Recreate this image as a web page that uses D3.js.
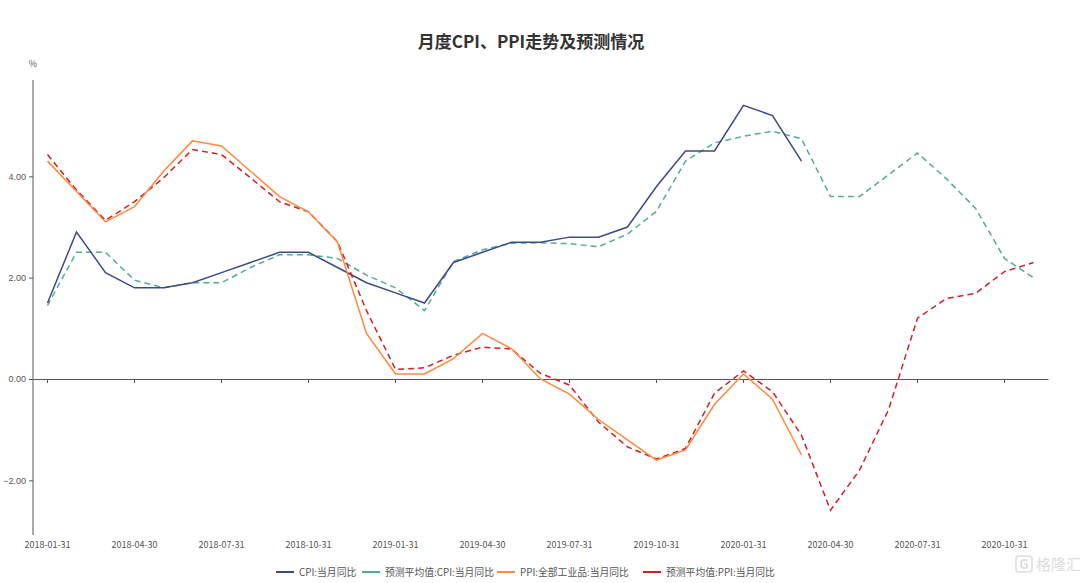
<!DOCTYPE html>
<html>
<head>
<meta charset="utf-8">
<script src="https://cdn.jsdelivr.net/npm/d3@7"></script>
<style>
  body { margin: 0; background: #fff; font-family: "Noto Sans CJK SC", "Noto Sans", sans-serif; }
  .axis text { font-size: 9px; fill: #555; }
  .axis path, .axis line { stroke: #555; }
</style>
</head>
<body>
<div id="chart"></div>
<script>
var months = [
  '2018-01-31', '2018-02-28', '2018-03-31', '2018-04-30', '2018-05-31', '2018-06-30',
  '2018-07-31', '2018-08-31', '2018-09-30', '2018-10-31', '2018-11-30', '2018-12-31',
  '2019-01-31', '2019-02-28', '2019-03-31', '2019-04-30', '2019-05-31', '2019-06-30',
  '2019-07-31', '2019-08-31', '2019-09-30', '2019-10-31', '2019-11-30', '2019-12-31',
  '2020-01-31', '2020-02-29', '2020-03-31', '2020-04-30', '2020-05-31', '2020-06-30',
  '2020-07-31', '2020-08-31', '2020-09-30', '2020-10-31', '2020-11-30'
];
var cpi = [1.5, 2.9, 2.1, 1.8, 1.8, 1.9, 2.1, 2.3, 2.5, 2.5, 2.2, 1.9,
  1.7, 1.5, 2.3, 2.5, 2.7, 2.7, 2.8, 2.8, 3.0, 3.8, 4.5, 4.5,
  5.4, 5.2, 4.3];
var cpiForecast = [1.45, 2.5, 2.5, 1.95, 1.8, 1.9, 1.9, 2.2, 2.45, 2.45, 2.38, 2.05,
  1.8, 1.35, 2.32, 2.55, 2.68, 2.69, 2.67, 2.61, 2.86, 3.31, 4.3, 4.66,
  4.79, 4.89, 4.74, 3.6, 3.6, 4.03, 4.46, 3.95, 3.37, 2.38, 2.0];
var ppi = [4.3, 3.7, 3.1, 3.4, 4.1, 4.7, 4.6, 4.1, 3.6, 3.3, 2.7, 0.9,
  0.1, 0.1, 0.4, 0.9, 0.6, 0.0, -0.3, -0.8, -1.2, -1.6, -1.4, -0.5,
  0.1, -0.4, -1.5];
var ppiForecast = [4.43, 3.73, 3.13, 3.5, 3.97, 4.53, 4.43, 3.97, 3.5, 3.3, 2.71, 1.35,
  0.19, 0.22, 0.47, 0.63, 0.59, 0.11, -0.12, -0.85, -1.34, -1.58, -1.37, -0.28,
  0.16, -0.25, -1.11, -2.59, -1.8, -0.61, 1.2, 1.59, 1.69, 2.12, 2.3];
var yTicks = [-2, 0, 2, 4];
var seriesNames = ['CPI:当月同比', '预测平均值:CPI:当月同比', 'PPI:全部工业品:当月同比', '预测平均值:PPI:当月同比'];

var chartWidth = 1091;
var chartHeight = 583;
var plotLeft = 33;
var plotRight = 1048;
var plotTop = 75;
var plotBottom = 531;

var svg = d3.select('#chart')
    .append('svg')
    .attr('width', chartWidth)
    .attr('height', chartHeight);

// Title
svg.append('text')
    .attr('x', 531)
    .attr('y', 48)
    .attr('text-anchor', 'middle')
    .attr('font-size', 17)
    .attr('font-weight', 'bold')
    .attr('fill', '#333')
    .text('月度CPI、PPI走势及预测情况');

svg.append('text')
    .attr('x', 33)
    .attr('y', 67)
    .attr('text-anchor', 'middle')
    .attr('font-size', 9)
    .attr('fill', '#555')
    .text('%');

// Scales
var scaleX = d3.scaleBand()
    .domain(months)
    .range([plotLeft, plotRight]);

var scaleY = d3.scaleLinear()
    .domain([-3, 6])
    .range([plotBottom, plotTop]);

// Y axis
var axisY = d3.axisLeft(scaleY)
    .tickValues(yTicks)
    .tickSize(4)
    .tickFormat(d3.format('.2f'));

svg.append('g')
    .attr('class', 'axis y-axis')
    .attr('transform', 'translate(' + plotLeft + ',0)')
    .call(axisY)
    .call(function(g) {
      g.select('.domain').attr('d', 'M0,' + (plotTop + 5) + 'V' + (plotBottom + 4));
    });

// X axis on zero line, labels at bottom
var shown = months.filter(function(d, i) { return i % 3 === 0; });
var axisX = d3.axisBottom(scaleX)
    .tickValues(shown)
    .tickSize(4)
    .tickSizeOuter(0)
    .tickFormat('');

svg.append('g')
    .attr('class', 'axis x-axis')
    .attr('transform', 'translate(0,' + scaleY(0) + ')')
    .call(axisX);

svg.append('g')
    .attr('class', 'axis x-labels')
    .selectAll('text')
    .data(shown)
    .enter()
    .append('text')
    .attr('x', function(d) { return scaleX(d) + scaleX.bandwidth() / 2; })
    .attr('y', 548)
    .attr('text-anchor', 'middle')
    .text(function(d) { return d; });

// Lines
var line = d3.line()
    .x(function(d, i) { return scaleX(months[i]) + scaleX.bandwidth() / 2; })
    .y(function(d) { return scaleY(d); });

var series = [
  { values: cpiForecast, color: '#4fae97', dash: '6,4' },
  { values: cpi, color: '#3c4a8a', dash: null },
  { values: ppiForecast, color: '#cf1f27', dash: '6,4' },
  { values: ppi, color: '#fd8a3a', dash: null }
];

svg.append('g')
    .attr('id', 'plot-area')
    .selectAll('path')
    .data(series)
    .enter()
    .append('path')
    .attr('d', function(d) { return line(d.values); })
    .attr('fill', 'none')
    .attr('stroke', function(d) { return d.color; })
    .attr('stroke-width', 1.5)
    .attr('stroke-dasharray', function(d) { return d.dash; });

// Legend
var legendColors = ['#3c4a8a', '#4fae97', '#fd8a3a', '#cf1f27'];
var legendX = [276, 362, 497, 643];
var legend = svg.append('g')
    .selectAll('g')
    .data(seriesNames)
    .enter()
    .append('g')
    .attr('transform', function(d, i) { return 'translate(' + legendX[i] + ',572)'; });

legend.append('line')
    .attr('x1', 0)
    .attr('x2', 18)
    .attr('stroke', function(d, i) { return legendColors[i]; })
    .attr('stroke-width', 2);

legend.append('text')
    .attr('x', 23)
    .attr('y', 3.5)
    .attr('font-size', 9.8)
    .attr('fill', '#555')
    .text(function(d) { return d; });

// Watermark
var mark = svg.append('g').attr('transform', 'translate(1016,556)');
mark.append('rect')
    .attr('width', 16)
    .attr('height', 16)
    .attr('rx', 3)
    .attr('fill', 'none')
    .attr('stroke', '#ddd')
    .attr('stroke-width', 1.5);
mark.append('text')
    .attr('x', 8)
    .attr('y', 13)
    .attr('text-anchor', 'middle')
    .attr('font-size', 13)
    .attr('font-weight', 'bold')
    .attr('fill', '#ddd')
    .text('G');
mark.append('text')
    .attr('x', 20)
    .attr('y', 14)
    .attr('font-size', 15)
    .attr('fill', '#ddd')
    .text('格隆汇');
</script>
</body>
</html>
